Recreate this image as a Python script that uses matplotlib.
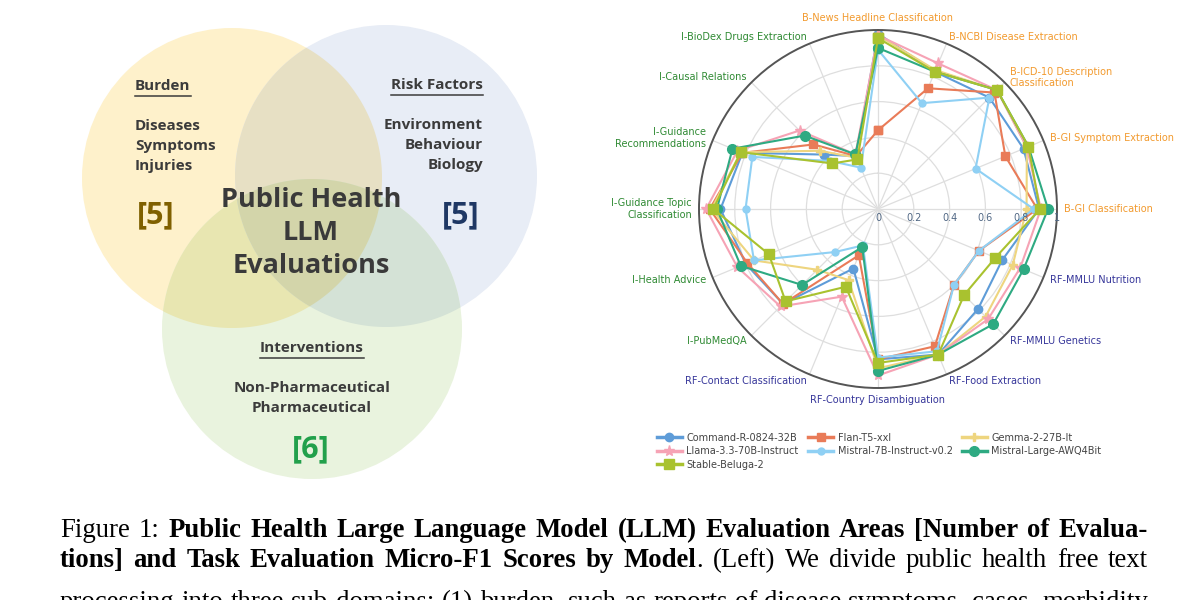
import matplotlib
matplotlib.use('Agg')
import matplotlib.pyplot as plt
import numpy as np
from matplotlib.patches import Circle, Polygon
from matplotlib.lines import Line2D

# ---- radar data ----
categories = ['B-News Headline Classification', 'B-NCBI Disease Extraction',
              'B-ICD-10 Description\nClassification', 'B-GI Symptom Extraction',
              'B-GI Classification', 'RF-MMLU Nutrition', 'RF-MMLU Genetics',
              'RF-Food Extraction', 'RF-Country Disambiguation',
              'RF-Contact Classification', 'I-PubMedQA', 'I-Health Advice',
              'I-Guidance Topic\nClassification', 'I-Guidance\nRecommendations',
              'I-Causal Relations', 'I-BioDex Drugs Extraction']
cat_groups = ['B'] * 5 + ['RF'] * 5 + ['I'] * 6

command_r = [0.98, 0.83, 0.88, 0.88, 0.90, 0.75, 0.79, 0.88, 0.84, 0.36, 0.75, 0.80, 0.88, 0.82, 0.43, 0.32]
flan_t5 = [0.44, 0.73, 0.92, 0.77, 0.89, 0.61, 0.60, 0.83, 0.84, 0.28, 0.75, 0.79, 0.94, 0.82, 0.51, 0.32]
gemma = [0.97, 0.84, 0.94, 0.90, 0.83, 0.815, 0.85, 0.88, 0.89, 0.43, 0.48, 0.75, 0.93, 0.83, 0.46, 0.31]
llama = [0.97, 0.88, 0.94, 0.90, 0.91, 0.86, 0.87, 0.88, 0.93, 0.53, 0.77, 0.85, 0.96, 0.85, 0.62, 0.33]
mistral_7b = [0.89, 0.64, 0.88, 0.59, 0.87, 0.61, 0.60, 0.86, 0.83, 0.22, 0.34, 0.75, 0.74, 0.76, 0.38, 0.25]
mistral_large = [0.90, 0.83, 0.94, 0.91, 0.95, 0.88, 0.91, 0.88, 0.905, 0.23, 0.60, 0.83, 0.90, 0.88, 0.58, 0.33]
beluga = [0.955, 0.83, 0.94, 0.91, 0.905, 0.71, 0.68, 0.88, 0.86, 0.47, 0.73, 0.66, 0.92, 0.83, 0.36, 0.30]

models = [
    ('Command-R-0824-32B', command_r, '#5E9CD8', 'o', 6),
    ('Flan-T5-xxl', flan_t5, '#E97B58', 's', 6),
    ('Gemma-2-27B-It', gemma, '#EED57F', 'P', 6),
    ('Llama-3.3-70B-Instruct', llama, '#F6A3B5', '*', 8),
    ('Mistral-7B-Instruct-v0.2', mistral_7b, '#8FD0F4', 'o', 5),
    ('Mistral-Large-AWQ4Bit', mistral_large, '#2EAA82', 'o', 7),
    ('Stable-Beluga-2', beluga, '#A9C22F', 's', 7),
]
group_colors = {'B': '#F29A2E', 'RF': '#36369A', 'I': '#2F8A33'}

fig = plt.figure(figsize=(12, 6), dpi=100)

# background axes in pixel coordinates
bg = fig.add_axes([0, 0, 1, 1])
bg.set_xlim(0, 1200)
bg.set_ylim(600, 0)
bg.axis('off')

# ---- venn ----
circles = [((232, 178), 150, '#FEF1CB'),   # burden
           ((386, 176), 151, '#E8EDF6'),   # risk factors
           ((312, 329), 150, '#E9F3DE')]   # interventions


def multiply(*cols):
    out = np.ones(3)
    for c in cols:
        out = out * np.array(matplotlib.colors.to_rgb(c))
    return out


def inter_poly(idx):
    pts = []
    t = np.linspace(0, 2 * np.pi, 1440, endpoint=False)
    for i in idx:
        (cx, cy), r, _ = circles[i]
        p = np.column_stack([cx + r * np.cos(t), cy + r * np.sin(t)])
        ok = np.ones(len(p), bool)
        for j in idx:
            if j == i:
                continue
            (dx, dy), rj, _ = circles[j]
            ok &= np.hypot(p[:, 0] - dx, p[:, 1] - dy) <= rj + 1e-6
        pts.append(p[ok])
    pts = np.vstack(pts)
    c = pts.mean(axis=0)
    order = np.argsort(np.arctan2(pts[:, 1] - c[1], pts[:, 0] - c[0]))
    return pts[order]


for (cx, cy), r, col in circles:
    bg.add_patch(Circle((cx, cy), r, fc=col, ec='none', zorder=1))
for idx in [(0, 1), (0, 2), (1, 2), (0, 1, 2)]:
    col = multiply(*[circles[i][2] for i in idx])
    bg.add_patch(Polygon(inter_poly(idx), closed=True, fc=col, ec='none', zorder=2))

vfont = 'Open Sans'
tcol = '#3B3B3B'
vsize = 11
renderer = fig.canvas.get_renderer()


def underlined(x, y, s, ha):
    t = bg.text(x, y, s, ha=ha, va='center', fontsize=vsize, fontweight='bold',
                family=vfont, color=tcol, zorder=5)
    bb = t.get_window_extent(renderer)
    bg.plot([bb.x0, bb.x1], [y + 10, y + 10], color=tcol, lw=1.1, zorder=5)


underlined(135, 86, 'Burden', 'left')
underlined(483, 85, 'Risk Factors', 'right')
underlined(312, 348, 'Interventions', 'center')
bg.text(135, 146, 'Diseases\nSymptoms\nInjuries', ha='left', va='center', fontsize=vsize,
        fontweight='bold', family=vfont, color=tcol, linespacing=1.52, zorder=5)
bg.text(483, 145, 'Environment\nBehaviour\nBiology', ha='right', va='center', fontsize=vsize,
        fontweight='bold', family=vfont, color=tcol, linespacing=1.52, multialignment='right', zorder=5)
bg.text(312, 398, 'Non-Pharmaceutical\nPharmaceutical', ha='center', va='center', fontsize=vsize,
        fontweight='bold', family=vfont, color=tcol, linespacing=1.52, zorder=5)
bg.text(311, 233, 'Public Health\nLLM\nEvaluations', ha='center', va='center', fontsize=19.5,
        fontweight='bold', family=vfont, color='#3A3A3A', linespacing=1.33, zorder=5)
bg.text(156, 215, '[5]', ha='center', va='center', fontsize=22, fontweight='bold',
        family=vfont, color='#7F6000', zorder=5)
bg.text(461, 215, '[5]', ha='center', va='center', fontsize=22, fontweight='bold',
        family=vfont, color='#1F3864', zorder=5)
bg.text(311, 449, '[6]', ha='center', va='center', fontsize=22, fontweight='bold',
        family=vfont, color='#22A04B', zorder=5)

# ---- radar ----
cx, cy, R = 878, 209, 179
ax = fig.add_axes([(cx - R) / 1200, 1 - (cy + R) / 600, 2 * R / 1200, 2 * R / 600],
                  projection='polar')
ax.set_theta_zero_location('N')
ax.set_theta_direction(-1)
angles = np.arange(len(categories)) * 2 * np.pi / len(categories)
ax.set_ylim(0, 1)
ax.set_xticks(angles)
ax.set_xticklabels([])
ax.set_yticks([0.2, 0.4, 0.6, 0.8, 1.0])
ax.set_yticklabels([])
ax.grid(color='#DEDEDE', lw=0.9)
ax.spines['polar'].set_color('#555555')
ax.spines['polar'].set_linewidth(1.4)
ax.set_facecolor('white')

for name, vals, col, mk, ms in models:
    th = np.append(angles, angles[0])
    rr = np.append(vals, vals[0])
    ax.plot(th, rr, color=col, lw=1.5, marker=mk, ms=ms, label=name, clip_on=False)

for r, lab in zip([0, 0.2, 0.4, 0.6, 0.8, 1.0], ['0', '0.2', '0.4', '0.6', '0.8', '1']):
    ax.annotate(lab, xy=(np.pi / 2, r), xytext=(0, -4), textcoords='offset pixels',
                ha='center', va='top', fontsize=7, color='#506784', family='DejaVu Sans')

for th, lab, g in zip(angles, categories, cat_groups):
    sx, sy = np.sin(th), np.cos(th)
    if sx > 0.05:
        ha = 'left'
    elif sx < -0.05:
        ha = 'right'
    else:
        ha = 'center'
    if abs(sx) < 0.05:
        va = 'bottom' if sy > 0 else 'top'
    else:
        va = 'center'
    ax.annotate(lab, xy=(th, 1.0), xytext=(7 * sx, 7 * sy), textcoords='offset pixels',
                ha=ha, va=va, multialignment=ha if ha != 'center' else 'center',
                fontsize=7, color=group_colors[g], family='DejaVu Sans', annotation_clip=False)

# legend (column-major order to mimic row layout)
handles = [Line2D([], [], color=c, lw=2.5, marker=m, ms=s) for _, _, c, m, s in models]
names = [m[0] for m in models]
order = [0, 3, 6, 1, 4, 2, 5]
fig.legend([handles[i] for i in order], [names[i] for i in order], ncol=3,
           loc='upper left', bbox_to_anchor=(648 / 1200, 1 - 424 / 600), frameon=False,
           prop={'family': 'DejaVu Sans', 'size': 7}, labelcolor='#444444',
           handlelength=2.6, handletextpad=0.45, columnspacing=0.95, labelspacing=0.35)

# ---- caption ----
cap_font = 'Liberation Serif'


def to_words(segments):
    words = []
    prev_space = True
    for text, wt in segments:
        parts = text.split(' ')
        for i, p in enumerate(parts):
            if not p:
                continue
            if i == 0 and not prev_space and words:
                words[-1].append((p, wt))
            else:
                words.append([(p, wt)])
        prev_space = text.endswith(' ')
    return words


def text_width(s, size, wt):
    t = bg.text(0, 0, s, fontsize=size, family=cap_font, fontweight=wt)
    w = t.get_window_extent(renderer).width
    t.remove()
    return w


def natural_width(segments, size):
    words = to_words(segments)
    total = sum(text_width(p, size, wt) for w in words for p, wt in w)
    sp = text_width('a a', size, 'normal') - text_width('aa', size, 'normal')
    return total + sp * (len(words) - 1)


def draw_line(segments, y, size, x0=60, x1=1148):
    words = to_words(segments)
    arts = []
    widths = []
    for w in words:
        row = []
        wsum = 0
        for piece, wt in w:
            t = bg.text(0, y, piece, fontsize=size, family=cap_font, fontweight=wt,
                        va='baseline', ha='left', color='black', zorder=5)
            bw = t.get_window_extent(renderer).width
            row.append((t, bw))
            wsum += bw
        arts.append(row)
        widths.append(wsum)
    gap = (x1 - x0 - sum(widths)) / (len(words) - 1)
    x = x0
    for row, wsum in zip(arts, widths):
        xx = x
        for t, bw in row:
            t.set_x(xx)
            xx += bw
        x += wsum + gap


line1 = [('Figure 1: ', 'normal'),
         ('Public Health Large Language Model (LLM) Evaluation Areas [Number of Evalua-', 'bold')]
line2 = [('tions] and Task Evaluation Micro-F1 Scores by Model', 'bold'),
         ('. (Left) We divide public health free text', 'normal')]
line3 = [('processing into three sub-domains: (1) burden, such as reports of disease symptoms, cases, morbidity', 'normal')]

base = 16.0
fit = min(1088 / natural_width(ln, base) for ln in (line1, line2, line3))
cap_size = base * fit * 0.995

draw_line(line1, 537, cap_size)
draw_line(line2, 567, cap_size)
draw_line(line3, 609, cap_size)

fig.savefig('out.png', dpi=100)
